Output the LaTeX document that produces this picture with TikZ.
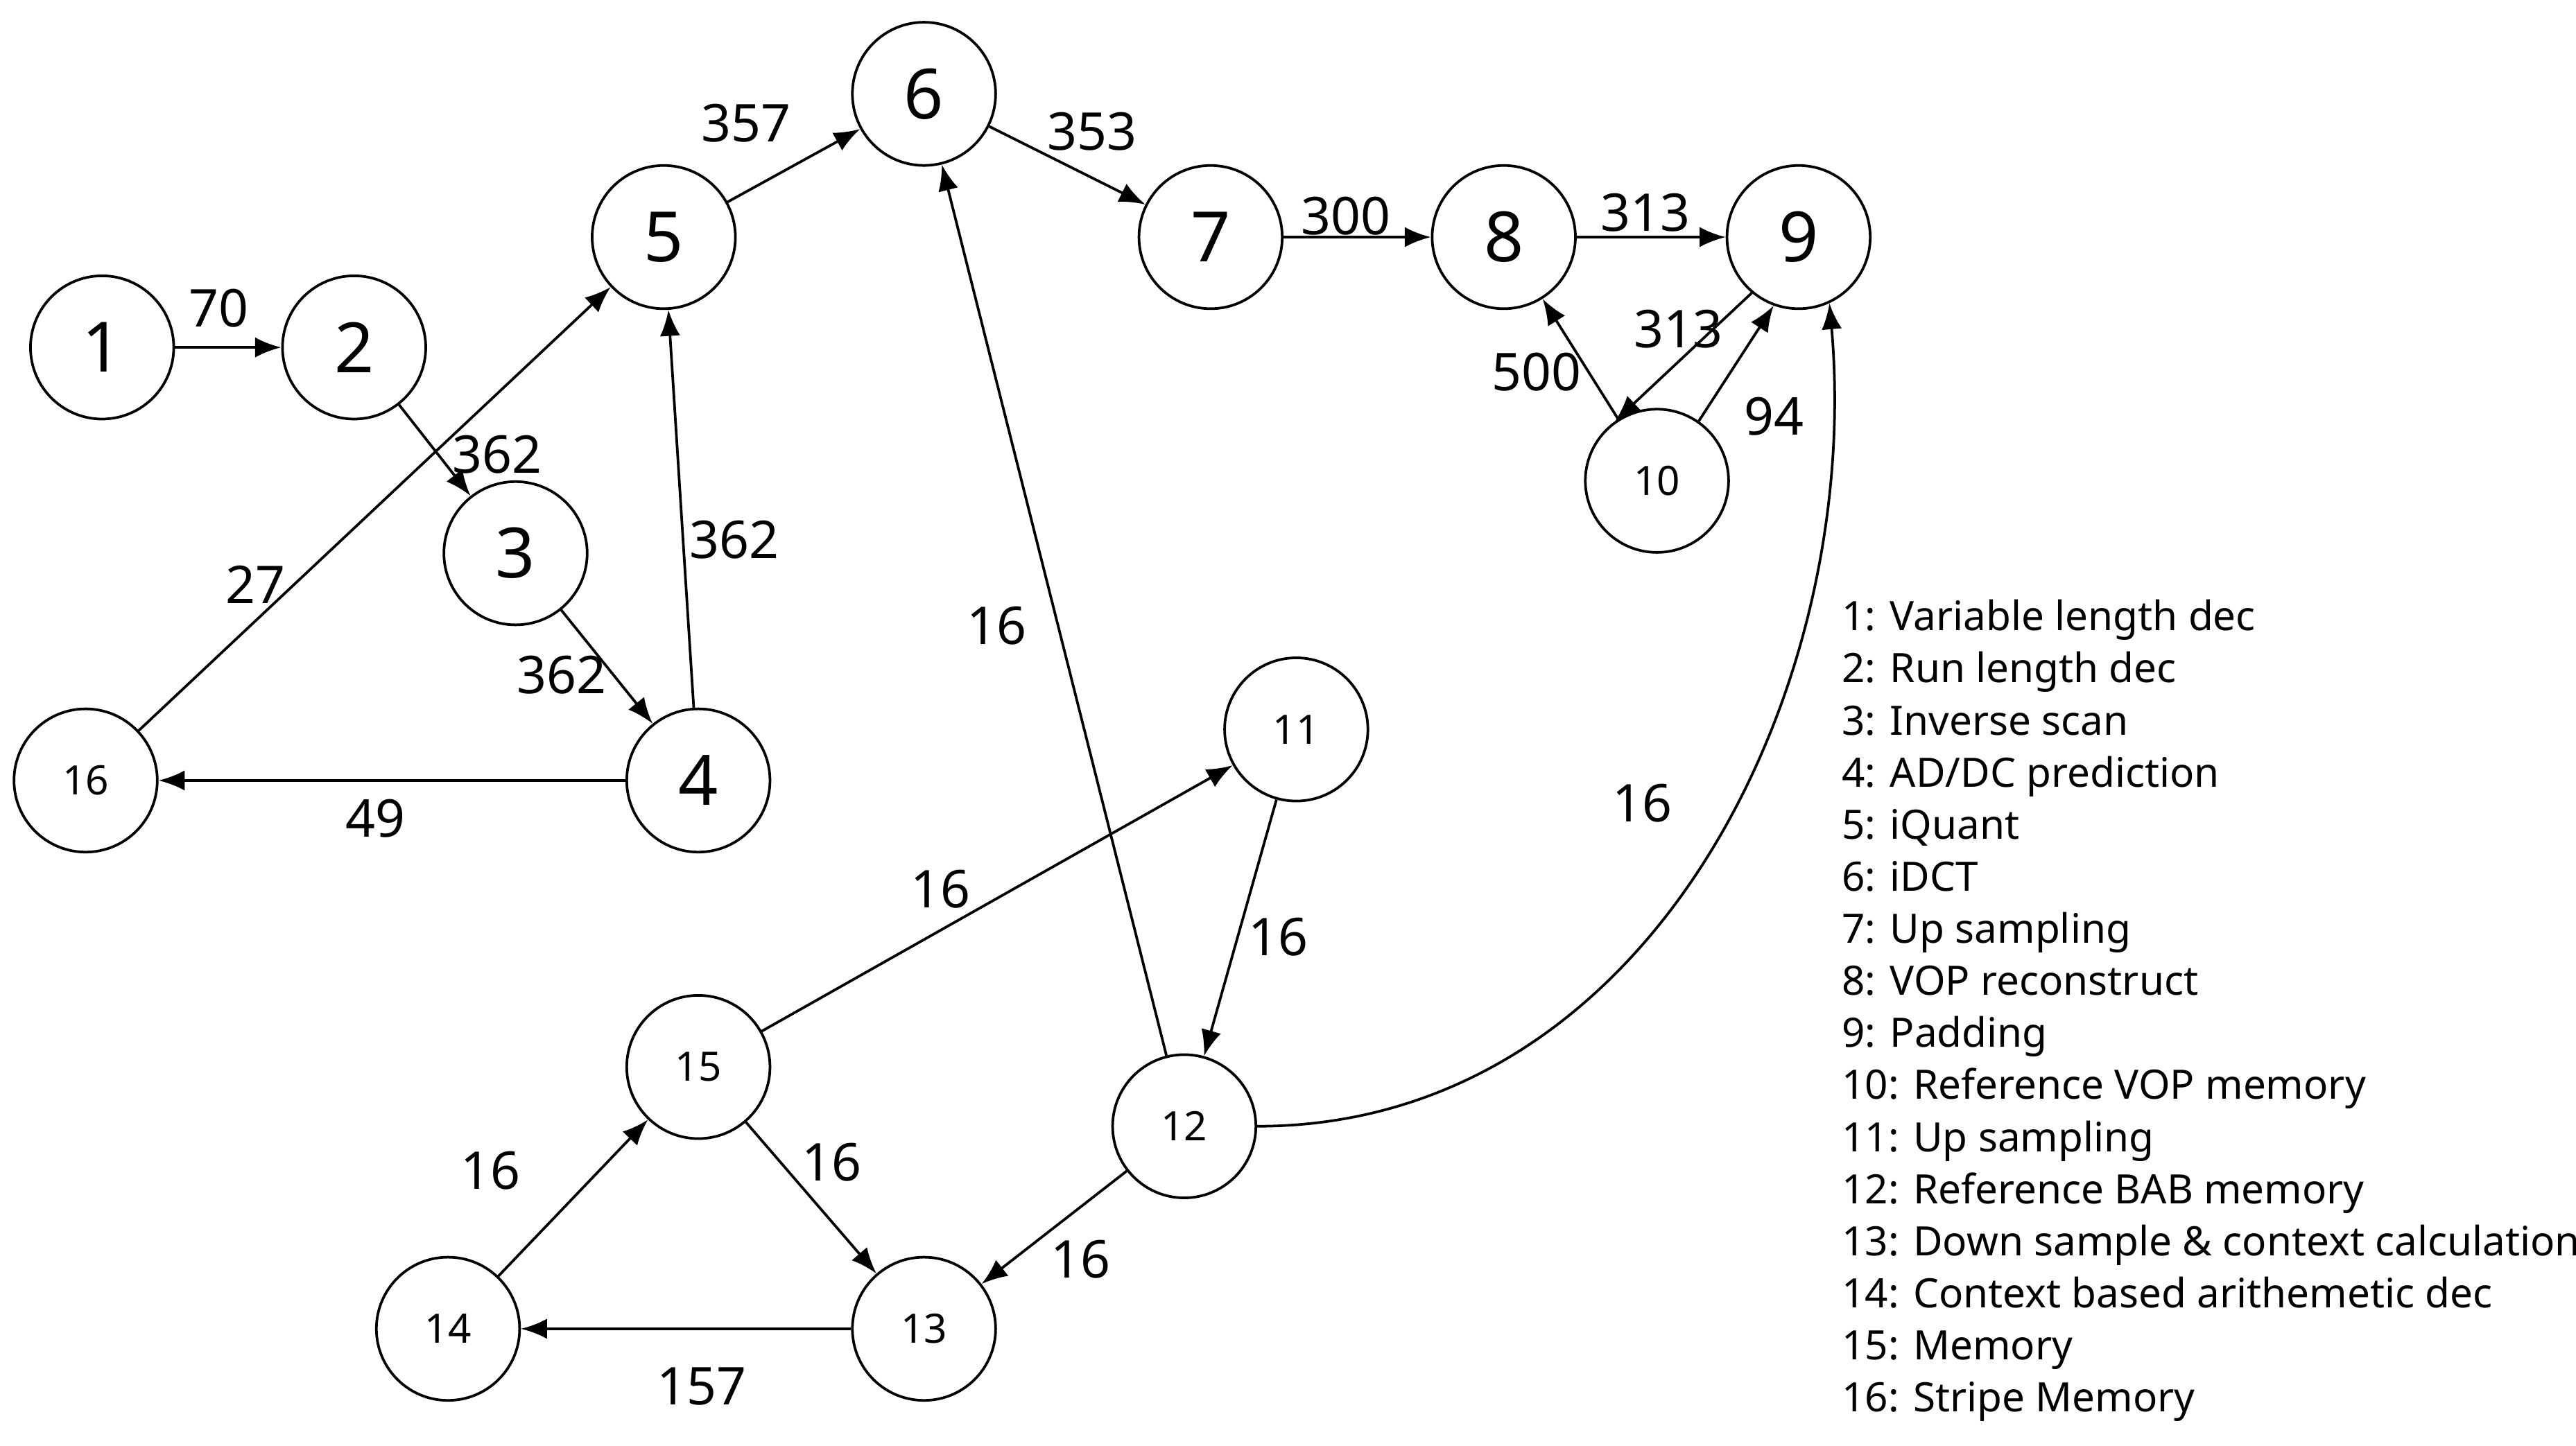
\documentclass[tikz,border=0pt]{standalone}
\usepackage{fontspec}
\setmainfont{Noto Sans}
\usetikzlibrary{arrows.meta}
\begin{document}
\begin{tikzpicture}[x=0.02cm,y=-0.02cm,
 n/.style={circle,draw,line width=0.9pt,minimum size=1.74cm,inner sep=0pt,font=\fontsize{24}{28}\selectfont},
 s/.style={n,font=\fontsize{14}{16}\selectfont},
 e/.style={draw,line width=0.9pt,-{Latex[length=9pt,width=7pt]}},
 l/.style={font=\fontsize{18}{20}\selectfont}]
\useasboundingbox (0,0) rectangle (1564,878);
\node[n] (1) at (62,211) {1};
\node[n] (2) at (215,211) {2};
\node[n] (3) at (313,336) {3};
\node[n] (4) at (424,474) {4};
\node[n] (5) at (403,144) {5};
\node[n] (6) at (561,57) {6};
\node[n] (7) at (735,144) {7};
\node[n] (8) at (913,144) {8};
\node[n] (9) at (1092,144) {9};
\node[s] (10) at (1006,292) {10};
\node[s] (11) at (787,443) {11};
\node[s] (12) at (719,684) {12};
\node[s] (13) at (561,807) {13};
\node[s] (14) at (272,807) {14};
\node[s] (15) at (424,648) {15};
\node[s] (16) at (52,474) {16};
\draw[e] (1)--(2); \node[l] at (133,187) {70};
\draw[e] (2)--(3); \node[l] at (302,276) {362};
\draw[e] (3)--(4); \node[l] at (341,410) {362};
\draw[e] (4)--(5); \node[l] at (446,328) {362};
\draw[e] (4)--(16); \node[l] at (228,497) {49};
\draw[e] (16)--(5); \node[l] at (155,355) {27};
\draw[e] (5)--(6); \node[l] at (453,75) {357};
\draw[e] (6)--(7); \node[l] at (663,80) {353};
\draw[e] (7)--(8); \node[l] at (817,131) {300};
\draw[e] (8)--(9); \node[l] at (999,129) {313};
\draw[e] (9.-130)--(10.125); \node[l] at (1019,200) {313};
\draw[e] (10)--(8); \node[l] at (933,226) {500};
\draw[e] (10.55)--(9.-110); \node[l] at (1077,253) {94};
\draw[e] (12)--(6); \node[l] at (605,380) {16};
\draw[e] (12.east) to[out=0,in=-85] (9.-65); \node[l] at (997,488) {16};
\draw[e] (11)--(12); \node[l] at (776,569) {16};
\draw[e] (15)--(11); \node[l] at (571,540) {16};
\draw[e] (15)--(13); \node[l] at (505,706) {16};
\draw[e] (12)--(13); \node[l] at (656,765) {16};
\draw[e] (13)--(14); \node[l] at (426,842) {157};
\draw[e] (14)--(15); \node[l] at (298,711) {16};
\node[anchor=north west,align=left,inner sep=0pt,font=\fontsize{14}{18}\selectfont] (leg) at (1118,364) {1: Variable length dec\\2: Run length dec\\3: Inverse scan\\4: AD/DC prediction\\5: iQuant\\6: iDCT\\7: Up sampling\\8: VOP reconstruct\\9: Padding\\10: Reference VOP memory\\11: Up sampling\\12: Reference BAB memory\\13: Down sample \& context calculation\\14: Context based arithemetic dec\\15: Memory\\16: Stripe Memory};
\end{tikzpicture}
\end{document}
